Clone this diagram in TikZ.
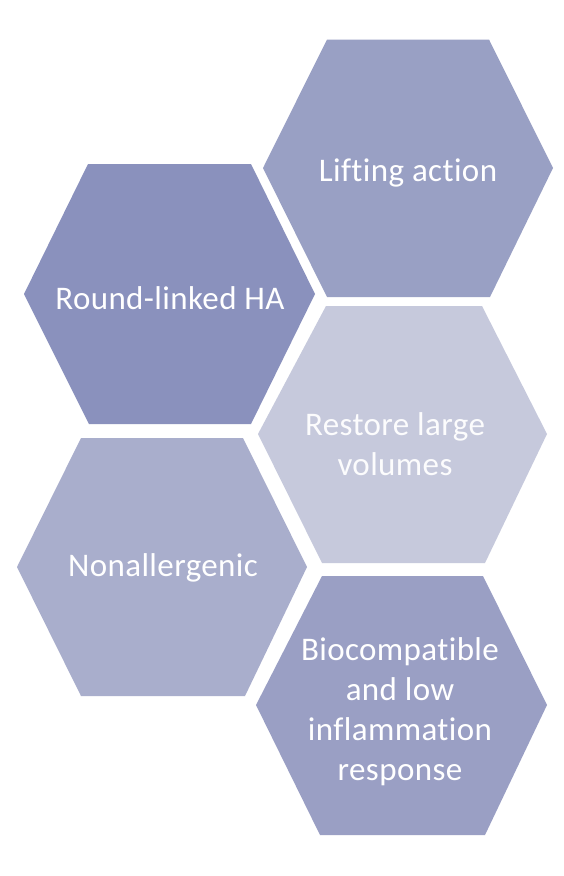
\documentclass[tikz,border=0pt]{standalone}
\usepackage{fontspec}
\setmainfont{Carlito}[Ligatures=NoCommon, LetterSpace=1.2]
\begin{document}
\begin{tikzpicture}[x=1pt,y=-1pt,
  hexlabel/.style={text=white, align=center, font=\fontsize{33}{40}\selectfont, inner sep=0pt}]
\useasboundingbox[fill=white] (0,0) rectangle (564,876);
\definecolor{hA}{HTML}{99A0C4}
\definecolor{hB}{HTML}{8A91BD}
\definecolor{hC}{HTML}{C6C9DC}
\definecolor{hD}{HTML}{A9AECC}
\definecolor{hE}{HTML}{9A9FC4}
% hexagons: left point, top-left, top-right, right point, bottom-right, bottom-left
\fill[hA] (263,168) -- (327,39.5) -- (489,39.5) -- (553,168) -- (490,297) -- (327,297) -- cycle;
\fill[hB] (24,294) -- (88,164) -- (251,164) -- (315,294) -- (251,424) -- (89,424) -- cycle;
\fill[hC] (258,434) -- (326,306) -- (482,306) -- (547,434) -- (485,563) -- (322,563) -- cycle;
\fill[hD] (17,567) -- (81,438) -- (243,438) -- (307,567) -- (245,696) -- (81,696) -- cycle;
\fill[hE] (256,705) -- (322,576) -- (483,576) -- (547,705) -- (485,835) -- (320,835) -- cycle;
\node[hexlabel] (lift) at (408,173) {Lifting action};
\node[hexlabel] (round) at (170,298) {Round-linked HA};
\node[hexlabel, text=white!94!hC] (restore) at (395,444) {Restore large\\volumes};
\node[hexlabel] (nonall) at (163,568) {Nonallergenic};
\node[hexlabel] (bio) at (400,712) {Biocompatible\\and low\\inflammation\\response};
\end{tikzpicture}
\end{document}
